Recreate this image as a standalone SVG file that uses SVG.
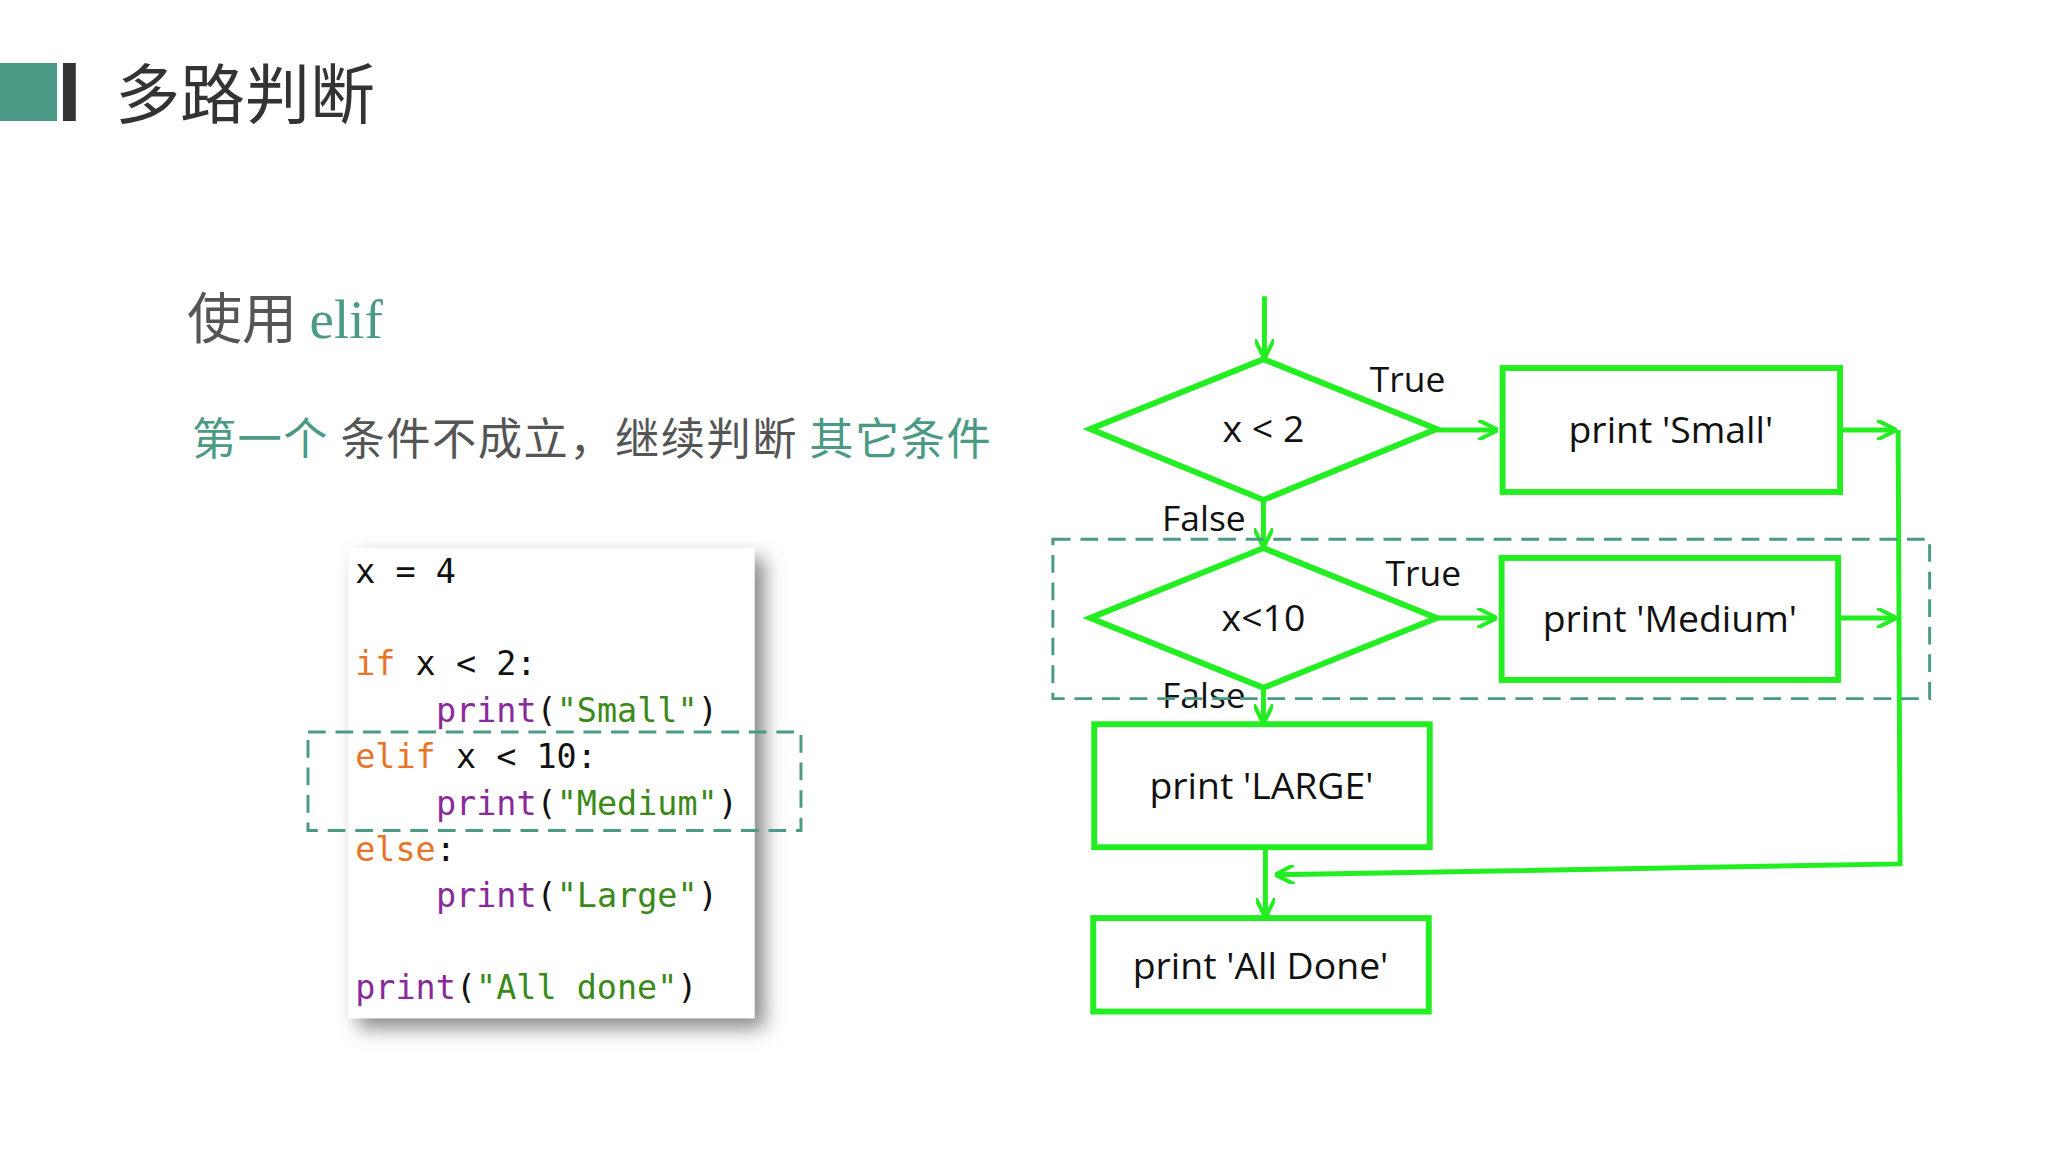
<svg xmlns="http://www.w3.org/2000/svg" width="2048" height="1152" viewBox="0 0 2048 1152">
<defs>
<style>
.g{fill:none;stroke:#22ee22;stroke-width:6}
.ln{fill:none;stroke:#22ee22;stroke-width:5}
.t{font-family:"Open Sans","Liberation Sans",sans-serif;font-size:38px;fill:#111;text-anchor:middle}
.lb{font-family:"Open Sans","Liberation Sans",sans-serif;font-size:36px;fill:#111}
.code{font-family:"DejaVu Sans Mono","Liberation Mono",monospace;font-size:34px}
.dash{fill:none;stroke:#4a9a86;stroke-width:3;stroke-dasharray:18 10}
.cjk{font-family:"Noto Sans CJK SC",sans-serif}
</style>
<marker id="ah" markerWidth="4" markerHeight="4" refX="3.5" refY="2" orient="auto" markerUnits="strokeWidth"><path d="M0,0 L4,2 L0,4" fill="none" stroke="#22ee22" stroke-width="0.8"/></marker>
<filter id="sh" x="-20%" y="-20%" width="150%" height="150%"><feGaussianBlur stdDeviation="10"/></filter>
</defs>
<rect width="2048" height="1152" fill="#fff"/>
<g transform="scale(0.984)">
<g id="title">
<rect x="0" y="64" width="58" height="59" fill="#4a9a86"/>
<rect x="64" y="64" width="13" height="59" fill="#333"/>
<text x="117" y="120" class="cjk" font-size="66" fill="#333">多路判断</text>
</g>
<g id="sub">
<text x="190" y="344" font-size="56"><tspan class="cjk" fill="#555">使用 </tspan><tspan font-family="Liberation Serif,serif" fill="#4a9a86">elif</tspan></text>
<text x="195" y="462" class="cjk" font-size="45" letter-spacing="1.5"><tspan fill="#4a9a86">第一个 </tspan><tspan fill="#555">条件不成立，继续判断 </tspan><tspan fill="#4a9a86">其它条件</tspan></text>
</g>
<g id="code">
<rect x="364" y="567" width="413" height="478" fill="#888" filter="url(#sh)"/>
<rect x="354" y="557" width="413" height="478" fill="#fff"/>
<g class="code">
<text x="361" y="592" fill="#111">x = 4</text>
<text x="361" y="686"><tspan fill="#e8742a">if</tspan><tspan fill="#111"> x &lt; 2:</tspan></text>
<text x="443" y="734"><tspan fill="#8a2a9a">print</tspan><tspan fill="#111">(</tspan><tspan fill="#3a8a1a">"Small"</tspan><tspan fill="#111">)</tspan></text>
<text x="361" y="780"><tspan fill="#e8742a">elif</tspan><tspan fill="#111"> x &lt; 10:</tspan></text>
<text x="443" y="828"><tspan fill="#8a2a9a">print</tspan><tspan fill="#111">(</tspan><tspan fill="#3a8a1a">"Medium"</tspan><tspan fill="#111">)</tspan></text>
<text x="361" y="875"><tspan fill="#e8742a">else</tspan><tspan fill="#111">:</tspan></text>
<text x="443" y="922"><tspan fill="#8a2a9a">print</tspan><tspan fill="#111">(</tspan><tspan fill="#3a8a1a">"Large"</tspan><tspan fill="#111">)</tspan></text>
<text x="361" y="1015"><tspan fill="#8a2a9a">print</tspan><tspan fill="#111">(</tspan><tspan fill="#3a8a1a">"All done"</tspan><tspan fill="#111">)</tspan></text>
</g>
<rect x="313" y="744" width="501" height="100" class="dash"/>
</g>
<g id="connectors">
<line x1="1285" y1="301" x2="1285" y2="362" class="ln" marker-end="url(#ah)"/>
<line x1="1460" y1="437" x2="1520" y2="437" class="ln" marker-end="url(#ah)"/>
<line x1="1284" y1="508" x2="1284" y2="554" class="ln" marker-end="url(#ah)"/>
<line x1="1460" y1="628" x2="1519" y2="628" class="ln" marker-end="url(#ah)"/>
<line x1="1284" y1="699" x2="1284" y2="733" class="ln" marker-end="url(#ah)"/>
<line x1="1286" y1="861" x2="1286" y2="930" class="ln" marker-end="url(#ah)"/>
<line x1="1870" y1="437" x2="1925" y2="437" class="ln" marker-end="url(#ah)"/>
<line x1="1868" y1="628" x2="1925" y2="628" class="ln" marker-end="url(#ah)"/>
<polyline points="1929,437 1931,878 1298,889" class="ln" marker-end="url(#ah)"/>
</g>
<g id="d1"><polygon points="1108,436 1284,365 1460,436 1284,508" class="g"/><text x="1284" y="449" class="t">x &lt; 2</text></g>
<g id="small"><rect x="1527" y="374" width="343" height="126" class="g"/><text x="1698" y="450" class="t">print 'Small'</text></g>
<g id="d2"><polygon points="1108,628 1284,557 1460,628 1284,699" class="g"/><text x="1284" y="641" class="t">x&lt;10</text></g>
<g id="medium"><rect x="1526" y="567" width="342" height="124" class="g"/><text x="1697" y="642" class="t">print 'Medium'</text></g>
<g id="large"><rect x="1112" y="736" width="341" height="125" class="g"/><text x="1282" y="812" class="t">print 'LARGE'</text></g>
<g id="done"><rect x="1111" y="933" width="341" height="95" class="g"/><text x="1281" y="995" class="t">print 'All Done'</text></g>
<g id="labels">
<text x="1392" y="398" class="lb">True</text>
<text x="1181" y="540" class="lb">False</text>
<text x="1408" y="596" class="lb">True</text>
<text x="1181" y="720" class="lb">False</text>
</g>
<rect x="1070" y="548" width="891" height="162" class="dash"/>
</g>
</svg>
